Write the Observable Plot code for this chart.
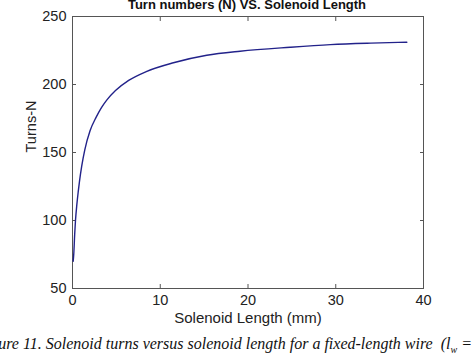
<!DOCTYPE html>
<html>
<head>
<meta charset="utf-8">
<script src="https://cdn.jsdelivr.net/npm/d3@7"></script>
<script src="https://cdn.jsdelivr.net/npm/@observablehq/plot@0.6"></script>
<style>
  html, body { margin: 0; padding: 0; background: #fff; overflow: hidden; }
  #wrap { position: relative; width: 474px; height: 356px; overflow: hidden; }
  #title { position: absolute; left: 0; width: 474px; top: -3px; text-align: center; font: bold 13px "Liberation Sans", Arial, sans-serif; color: #111; padding-left: 20px; box-sizing: border-box; }
  #caption { position: absolute; left: -24px; top: 335px; white-space: nowrap; font: italic 16px "Liberation Serif", "Times New Roman", serif; color: #111; }
  #chart { position: absolute; left: 0; top: 0; }
</style>
</head>
<body>
<div id="wrap">
  <div id="chart"></div>
  <div id="title">Turn numbers (N) VS. Solenoid Length</div>
  <div id="caption">Figure 11. Solenoid turns versus solenoid length for a fixed-length wire&nbsp;&nbsp;(<i>l</i><sub style="font-size:10px">w</sub> = </div>
</div>
<script>
const lengthMM = [0.08, 0.15, 0.25, 0.34, 0.5, 0.65, 0.8, 1.05, 1.4, 2.0, 2.7, 3.3, 3.9, 4.9, 6.4, 8.4, 11.5, 15.3, 19.1, 24.8, 29.4, 34.0, 38.1];
const turnsN   = [70, 76, 90, 100, 112, 121, 129, 140, 152, 166, 176, 183, 188.5, 195.5, 203, 209.5, 216, 221.5, 224.5, 227.4, 229.3, 230.4, 231.1];
const xTicks = [0, 10, 20, 30, 40];
const yTicks = [50, 100, 150, 200, 250];
const xLabel = "Solenoid Length (mm)";
const yLabel = "Turns-N";

const data = lengthMM.map((x, i) => ({x, y: turnsN[i]}));
const font = '"Liberation Sans", Arial, sans-serif';

const chart = Plot.plot({
  width: 474,
  height: 356,
  marginLeft: 72,
  marginRight: 51,
  marginTop: 16,
  marginBottom: 68,
  style: {fontFamily: font, fontSize: "14px", color: "#222", background: "#fff"},
  x: {domain: [0, 40]},
  y: {domain: [50, 250]},
  marks: [
    Plot.axisX({ticks: xTicks, tickSize: -4, tickPadding: 10, stroke: "#555", label: null, fontSize: 14.5}),
    Plot.axisX({anchor: "top", ticks: xTicks, tickSize: -4, tickFormat: () => "", stroke: "#555", label: null}),
    Plot.axisY({ticks: yTicks, tickSize: -4, tickPadding: 10, stroke: "#555", label: null, fontSize: 14.5}),
    Plot.axisY({anchor: "right", ticks: yTicks, tickSize: -4, tickFormat: () => "", stroke: "#555", label: null}),
    Plot.text([xLabel], {frameAnchor: "bottom", dy: 34, text: d => d, fontSize: 15, fill: "#222"}),
    Plot.text([yLabel], {frameAnchor: "left", dx: -41, rotate: -90, text: d => d, fontSize: 14.6, fill: "#222"}),
    Plot.frame({stroke: "#555", strokeWidth: 1}),
    Plot.line(data, {x: "x", y: "y", curve: "monotone-x", stroke: "#22228a", strokeWidth: 1.4})
  ]
});
document.getElementById("chart").appendChild(chart);
</script>
</body>
</html>
